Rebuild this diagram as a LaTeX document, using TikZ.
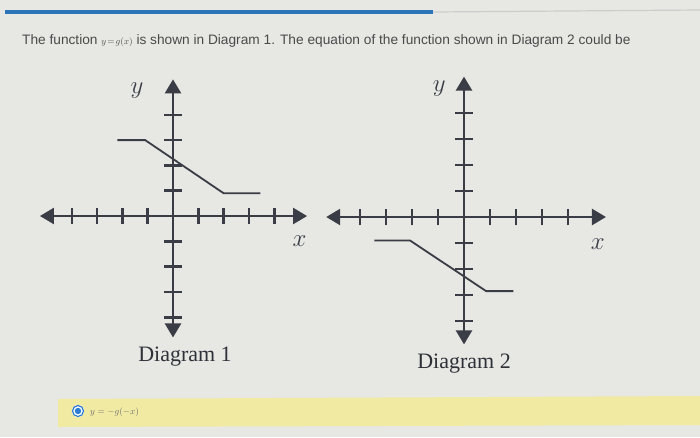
\documentclass[tikz,border=0pt]{standalone}
\usepackage{fontspec}
\setmainfont{Liberation Serif}
\newfontfamily\uifont{Liberation Sans}
\usetikzlibrary{arrows.meta}
\definecolor{bgc}{HTML}{E7E7E4}
\definecolor{axc}{HTML}{3A3D45}
\definecolor{txc}{HTML}{4A4A4A}
\definecolor{barblue}{HTML}{2C73B8}
\definecolor{yel}{HTML}{F1EAA2}
\definecolor{radio}{HTML}{2B7BD2}
\tikzset{
  axis/.style={line width=2.4pt, draw=axc, {Triangle[length=14pt,width=16pt]}-{Triangle[length=14pt,width=16pt]}},
  tick/.style={line width=2.6pt, draw=axc},
  graph/.style={line width=1.8pt, draw=axc, line join=miter},
  axlabel/.style={text=axc, font=\fontsize{26}{28}\selectfont},
  diaglabel/.style={text=axc!80!black, font=\fontsize{22}{24}\selectfont},
}
\begin{document}
\begin{tikzpicture}[x=1pt,y=-1pt]
\useasboundingbox (0,0) rectangle (700,437);
\fill[bgc] (0,0) rectangle (700,437);
% top bar
\draw[line width=1.2pt, draw=black!20] (433,12) -- (700,10);
\draw[line width=4pt, draw=barblue] (5,12) -- (433,12);
% question
\node[anchor=west, text=txc, font=\uifont\fontsize{13.7}{15}\selectfont, inner sep=0] (q) at (22,41)
  {The function {\fontsize{9}{11}\selectfont$y\!=\!g(x)$} is shown in Diagram 1. The equation of the function shown in Diagram 2 could be};
% Diagram 1
\begin{scope}[shift={(173pt,-216pt)}, x=25.3pt, y=25.3pt]
  \draw[axis] (-5.26,0) -- (5.3,0);
  \draw[axis] (0,-4.8) -- (0,5.4);
  \foreach \i in {-4,-3,-2,-1,1,2,3,4} {
    \draw[tick] (\i,-0.32) -- (\i,0.32);
    \draw[tick] (-0.34,\i) -- (0.34,\i);
  }
  \draw[graph] (-2.2,3) -- (-1.1,3) -- (2,0.9) -- (3.45,0.9);
  \node[axlabel] (y1) at (-1.42,4.95) {$y$};
  \node[axlabel] (x1) at (5.0,-1.0) {$x$};
\end{scope}
% Diagram 2
\begin{scope}[shift={(464pt,-217pt)}, x=26pt, y=26pt]
  \draw[axis] (-5.3,0) -- (5.46,0);
  \draw[axis] (0,-4.9) -- (0,5.4);
  \foreach \i in {-4,-3,-2,-1,1,2,3,4} {
    \draw[tick] (\i,-0.32) -- (\i,0.32);
    \draw[tick] (-0.34,\i) -- (0.34,\i);
  }
  \draw[graph] (-3.45,-0.9) -- (-2.08,-0.9) -- (0.85,-2.85) -- (1.9,-2.85);
  \node[axlabel] (y2) at (-0.95,4.95) {$y$};
  \node[axlabel] (x2) at (5.15,-1.05) {$x$};
\end{scope}
\node[diaglabel] (d1) at (185,357) {Diagram 1};
\node[diaglabel] (d2) at (464,364) {Diagram 2};
% answer band
\fill[yel] (58,399) -- (700,396) -- (700,425) -- (58,427) -- cycle;
\fill[white] (78,411) circle (6);
\draw[radio, line width=1.2pt] (78,411) circle (5.5);
\fill[radio] (78,411) circle (3.2);
\node[anchor=west, text=txc!80, font=\fontsize{9}{11}\selectfont, inner sep=0] (ans) at (90,412) {$y=-g(-x)$};
\end{tikzpicture}
\end{document}
